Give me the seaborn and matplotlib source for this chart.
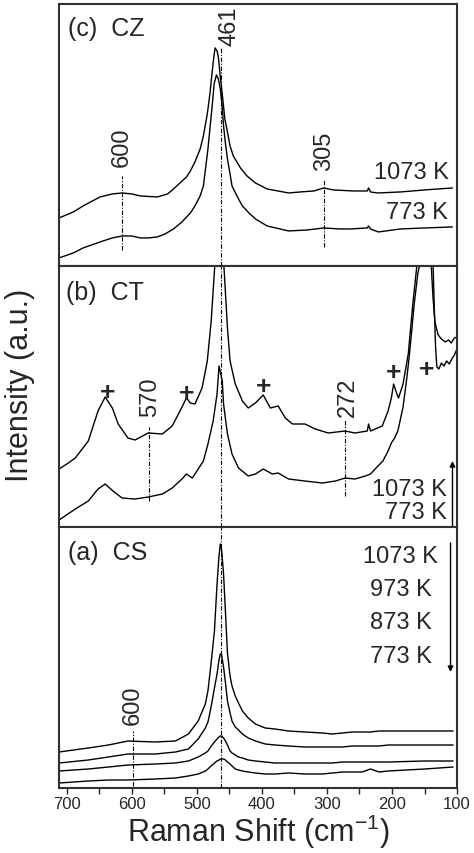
import pandas as pd
import matplotlib
matplotlib.use("Agg")
import matplotlib.pyplot as plt
from matplotlib.ticker import MultipleLocator
import seaborn as sns

# Raman shift (cm-1) / intensity (a.u., arbitrary per panel)

# (c) CZ
cz_shift_1073 = [712, 690, 675, 649, 630, 615, 600, 587, 561, 545, 536, 526, 516, 510, 503, 495, 490, 484, 480, 476.5,
                 474, 472, 469, 467, 464, 461, 457, 453, 449, 444, 433, 423, 410, 392, 359, 341, 320, 305, 290, 260,
                 238, 236, 233, 222, 187, 150, 107]
cz_int_1073 = [48, 54, 60, 69, 72, 73, 72, 70, 69, 72, 77, 83, 89, 95, 104, 117, 130, 152, 172, 194,
               209, 218, 215, 209, 189, 172, 147, 134, 120, 110, 98, 90, 83, 77, 73, 74, 75, 78, 76, 75,
               75, 78, 74, 73, 74, 76, 78]
cz_shift_773 = [712, 690, 675, 649, 630, 615, 600, 587, 575, 561, 549, 536, 523, 510, 503, 495, 490, 483, 480, 476.5,
                473.5, 470, 467, 464, 461, 459, 456, 453, 449, 446, 436, 430, 420, 410, 392, 359, 330, 305, 280, 264,
                238, 236, 233, 221, 187, 150, 107]
cz_int_773 = [8, 13, 18, 24, 28, 30, 30, 28, 28, 29, 32, 37, 44, 53, 60, 70, 80, 117, 137, 160,
              182, 191, 187, 177, 159, 140, 122, 107, 92, 80, 67, 60, 53, 47, 40, 35, 36, 38, 37, 37,
              38, 40, 37, 34, 37, 38, 39]

# (b) CT
ct_shift_1073 = [712, 700, 687, 667, 652, 641, 630, 621, 606, 595, 575, 553, 538, 526, 516, 510, 503, 492, 484, 478,
                 473, 466, 458, 453, 449, 441, 430, 421, 410, 398, 387, 375, 364, 353, 334, 318, 298, 272, 257, 238,
                 236, 233, 215, 206, 201, 197.5, 193, 190, 183, 175, 167.5, 161, 148, 140, 137, 134, 129, 124, 118, 113,
                 109, 104, 100]
ct_int_1073 = [58, 63, 69, 86, 116, 130, 119, 103, 89, 87, 94, 93, 101, 116, 129, 124, 123, 139, 166, 206,
               256, 330, 256, 199, 166, 143, 126, 119, 124, 132, 119, 121, 109, 103, 103, 98, 94, 96, 94, 96,
               103, 96, 101, 116, 129, 143, 134, 129, 143, 173, 226, 266, 330, 266, 230, 205, 192, 188, 185, 187,
               184, 189, 190]
ct_shift_773 = [712, 687, 667, 652, 641, 629, 615, 595, 575, 553, 538, 523, 516, 507, 500, 490, 483, 475, 469, 466,
                461, 459, 453, 446, 436, 421, 410, 398, 384, 375, 359, 334, 307, 287, 272, 257, 241, 233, 226, 214,
                206, 201, 196, 191, 183, 177, 172, 166, 160, 155, 146, 137, 135, 133, 131, 128, 124, 120, 116, 112,
                108, 104, 100]
ct_int_773 = [7, 18, 26, 38, 43, 36, 29, 28, 30, 33, 39, 48, 53, 49, 56, 66, 83, 106, 133, 161,
              146, 123, 93, 73, 59, 51, 53, 58, 53, 54, 48, 46, 44, 46, 49, 48, 51, 53, 58, 66,
              76, 84, 89, 96, 120, 150, 180, 222, 255, 268, 330, 266, 220, 180, 160, 158, 164, 161, 166, 163,
              168, 172, 178]

# (a) CS
cs_shift = [712, 667, 636, 606, 564, 533, 513, 498, 487, 483, 480, 476.5, 473, 469, 466, 464, 462, 459, 456, 453,
            449, 446, 441, 436, 430, 421, 410, 395, 380, 359, 334, 307, 292, 276, 261, 246, 233, 220, 206, 150, 106]
cs_int_1073 = [36, 40, 43, 47, 46, 47, 54, 67, 84, 97, 114, 135, 157, 204, 232, 244, 238, 214, 175, 135,
               112, 102, 92, 85, 77, 70, 64, 60, 59, 57, 56, 55, 54, 55, 56, 56, 56, 57, 57, 57, 57]
cs_int_973 = [25, 28, 31, 34, 34, 36, 39, 49, 60, 66, 75, 87, 100, 114, 128, 134, 133, 121, 105, 87,
              75, 67, 61, 58, 54, 50, 47, 44, 43, 42, 41, 41, 41, 41, 42, 42, 42, 42, 43, 43, 43]
cs_int_873 = [17, 19, 21, 23, 24, 25, 27, 31, 35, 37, 40, 43, 46, 49, 51, 52, 52, 50, 47, 43,
              37, 35, 33, 31, 30, 28, 27, 26, 25, 25, 25, 25, 25, 26, 26, 26, 26, 26, 26, 27, 27]
cs_int_773 = [5, 7, 8, 8, 9, 10, 12, 14, 17, 19, 21, 23, 25, 27, 28, 29, 29, 29, 28, 26,
              24, 22, 19, 18, 17, 16, 15, 14, 14, 15, 14, 14, 15, 16, 16, 16, 19, 16, 17, 19, 21]

main_peak = 463
ticks_major = [700, 600, 500, 400, 300, 200, 100]


def spectra_frame(shifts, ints, temps):
    frames = []
    for s, i, t in zip(shifts, ints, temps):
        frames.append(pd.DataFrame({"shift": s, "intensity": i, "temp": t}))
    return pd.concat(frames, ignore_index=True)


sns.set_theme(style="ticks")
plt.rcParams["font.family"] = ["Liberation Sans", "DejaVu Sans"]
plt.rcParams["mathtext.fontset"] = "custom"
plt.rcParams["mathtext.rm"] = "Liberation Sans"
plt.rcParams["mathtext.default"] = "rm"

fig = plt.figure(figsize=(4.74, 8.54), dpi=100)
ax_c = fig.add_axes([0.1245, 0.6874, 0.8397, 0.3068])
ax_b = fig.add_axes([0.1245, 0.3817, 0.8397, 0.3057])
ax_a = fig.add_axes([0.1245, 0.0761, 0.8397, 0.3057])

df_c = spectra_frame([cz_shift_1073, cz_shift_773], [cz_int_1073, cz_int_773], ["1073", "773"])
df_b = spectra_frame([ct_shift_1073, ct_shift_773], [ct_int_1073, ct_int_773], ["1073", "773"])
df_a = spectra_frame([cs_shift] * 4, [cs_int_1073, cs_int_973, cs_int_873, cs_int_773],
                     ["1073", "973", "873", "773"])

for ax, df, top in [(ax_c, df_c, 262), (ax_b, df_b, 261), (ax_a, df_a, 261)]:
    sns.lineplot(data=df, x="shift", y="intensity", units="temp", estimator=None, sort=False,
                 color="black", lw=1.0, ax=ax, legend=False)
    ax.set_xlim(712, 100)
    ax.set_ylim(0, top)
    ax.set_yticks([])
    ax.set_xlabel("")
    ax.set_ylabel("")
    for sp in ax.spines.values():
        sp.set_linewidth(1.5)
        sp.set_color("#303030")
    ax.tick_params(axis="x", which="both", bottom=False, labelbottom=False)

dashdot = (0, (4, 1.5, 1, 1.5))
mark_style = dict(color="black", lw=0.8, linestyles=[dashdot])

# (c) CZ
ax_c.vlines(main_peak, 0, 219, **mark_style)
ax_c.vlines([615, 305], [16, 19], [90, 87], **mark_style)
ax_c.text(450, 221, "461", rotation=90, ha="center", va="bottom", fontsize=17)
ax_c.text(615, 100, "600", rotation=90, ha="center", va="bottom", fontsize=17)
ax_c.text(305, 96, "305", rotation=90, ha="center", va="bottom", fontsize=17)
ax_c.text(113, 94, "1073 K", ha="right", va="center", fontsize=17)
ax_c.text(114, 54, "773 K", ha="right", va="center", fontsize=17)
ax_c.text(698, 238, "(c)  CZ", ha="left", va="center", fontsize=18)

# (b) CT
ax_b.vlines(main_peak, 0, 261, **mark_style)
ax_b.vlines([573, 272], [26, 31], [100, 108], **mark_style)
ax_b.text(572, 111, "570", rotation=90, ha="center", va="bottom", fontsize=17)
ax_b.text(268, 111, "272", rotation=90, ha="center", va="bottom", fontsize=17)
plus_x = [638, 516, 398, 198, 146]
plus_y = [135, 134, 141, 155, 158]
for px, py in zip(plus_x, plus_y):
    ax_b.text(px, py, "+", ha="center", va="center", fontsize=19, fontweight="bold")
ax_b.text(115, 38, "1073 K", ha="right", va="center", fontsize=17)
ax_b.text(115, 15, "773 K", ha="right", va="center", fontsize=17)
ax_b.annotate("", xy=(107, 66), xytext=(107, 1),
              arrowprops=dict(arrowstyle="-|>", color="black", lw=1, mutation_scale=8, shrinkA=0, shrinkB=0))
ax_b.text(702, 235, "(b)  CT", ha="left", va="center", fontsize=18)

# (a) CS
ax_a.vlines(main_peak, 0, 261, **mark_style)
ax_a.vlines(598, 2, 57, **mark_style)
ax_a.text(598, 64, "600", rotation=90, ha="center", va="bottom", fontsize=17)
for lab, yy in zip(["1073 K", "973 K", "873 K", "773 K"], [232, 199, 166, 132]):
    ax_a.text(187, yy, lab, ha="center", va="center", fontsize=17)
ax_a.annotate("", xy=(110, 116), xytext=(110, 245),
              arrowprops=dict(arrowstyle="-|>", color="black", lw=1, mutation_scale=8, shrinkA=0, shrinkB=0))
ax_a.text(698, 236, "(a)  CS", ha="left", va="center", fontsize=18)

ax_a.set_xticks(ticks_major)
ax_a.xaxis.set_minor_locator(MultipleLocator(50))
ax_a.tick_params(axis="x", which="both", bottom=True, labelbottom=True, direction="out",
                 length=4, width=1, labelsize=12, pad=1.5)
ax_a.set_xlabel("Raman Shift (cm$^{-1}$)", fontsize=22, labelpad=1)

fig.text(0.042, 0.549, "Intensity (a.u.)", rotation=90, ha="center", va="center", fontsize=22)

fig.savefig("out.png", dpi=100)
